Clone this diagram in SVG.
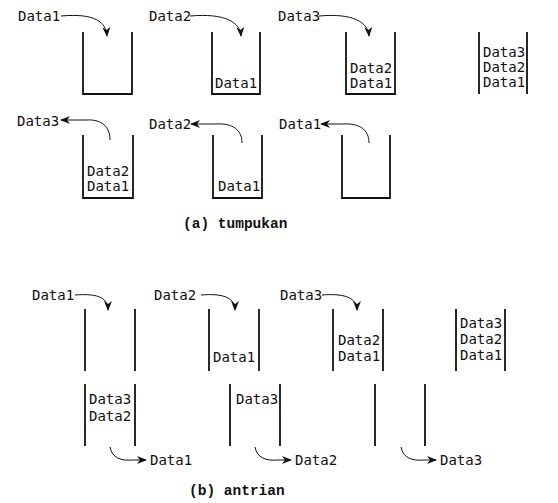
<svg xmlns="http://www.w3.org/2000/svg" width="558" height="503" viewBox="0 0 558 503">
<style>
.t{font-family:"DejaVu Sans Mono","Liberation Mono",monospace;font-size:14px;fill:#111}
.cap{font-family:"Liberation Mono","Courier New",monospace;font-size:14.5px;font-weight:bold;fill:#111}
.w{fill:none;stroke:#111;stroke-width:1.8}
.c{fill:none;stroke:#111;stroke-width:1}
</style>
<defs>
<marker id="ah" viewBox="0 0 10 8" refX="9" refY="4" markerWidth="10" markerHeight="8" markerUnits="userSpaceOnUse" orient="auto">
<path d="M0,0 L10,4 L0,8 L3,4 z" fill="#111"/>
</marker>
</defs>
<rect width="558" height="503" fill="#fff"/>

<g id="stack-a1">
<text class="t" x="18" y="21">Data1</text>
<path class="w" d="M83,32 V94 H132 V32"/>
</g>
<g id="stack-a2">
<text class="t" x="149" y="21">Data2</text>
<path class="w" d="M212,32 V94 H260 V32"/>
<text class="t" x="215" y="88">Data1</text>
</g>
<g id="stack-a3">
<text class="t" x="278" y="21">Data3</text>
<path class="w" d="M346,32 V94 H395 V32"/>
<text class="t" x="350" y="73">Data2</text>
<text class="t" x="350" y="88">Data1</text>
</g>
<g id="stack-a4">
<path class="w" d="M479,32 V94 M527,32 V94"/>
<text class="t" x="483" y="57">Data3</text>
<text class="t" x="483" y="72">Data2</text>
<text class="t" x="483" y="87">Data1</text>
</g>
<g id="stack-a5">
<text class="t" x="17" y="126">Data3</text>
<path class="w" d="M83,135 V198 H133 V135"/>
<text class="t" x="87" y="176">Data2</text>
<text class="t" x="87" y="191">Data1</text>
</g>
<g id="stack-a6">
<text class="t" x="149" y="129">Data2</text>
<path class="w" d="M213,135 V198 H262 V135"/>
<text class="t" x="218" y="191">Data1</text>
</g>
<g id="stack-a7">
<text class="t" x="279" y="129">Data1</text>
<path class="w" d="M342,135 V198 H390 V135"/>
</g>
<text class="cap" x="183" y="228">(a) tumpukan</text>

<g id="queue-b1">
<text class="t" x="32" y="300">Data1</text>
<path class="w" d="M85,309 V371 M135,309 V371"/>
</g>
<g id="queue-b2">
<text class="t" x="154" y="300">Data2</text>
<path class="w" d="M209,309 V371 M259,309 V371"/>
<text class="t" x="213" y="362">Data1</text>
</g>
<g id="queue-b3">
<text class="t" x="280" y="300">Data3</text>
<path class="w" d="M333,309 V371 M383,309 V371"/>
<text class="t" x="338" y="345">Data2</text>
<text class="t" x="338" y="361">Data1</text>
</g>
<g id="queue-b4">
<path class="w" d="M456,309 V371 M505,309 V371"/>
<text class="t" x="460" y="328">Data3</text>
<text class="t" x="460" y="344">Data2</text>
<text class="t" x="460" y="360">Data1</text>
</g>
<g id="queue-b5">
<path class="w" d="M85,384 V446 M135,384 V446"/>
<text class="t" x="89" y="404">Data3</text>
<text class="t" x="89" y="421">Data2</text>
<text class="t" x="150" y="465">Data1</text>
</g>
<g id="queue-b6">
<path class="w" d="M230,384 V446 M280,384 V446"/>
<text class="t" x="236" y="404">Data3</text>
<text class="t" x="295" y="465">Data2</text>
</g>
<g id="queue-b7">
<path class="w" d="M375,384 V446 M425,384 V446"/>
<text class="t" x="440" y="465">Data3</text>
</g>
<text class="cap" x="189" y="495">(b) antrian</text>

<g id="connectors">
<path class="c" marker-end="url(#ah)" d="M61,16 C95,13 106,22 107,36"/>
<path class="c" marker-end="url(#ah)" d="M190,16 C225,13 240,22 241,36"/>
<path class="c" marker-end="url(#ah)" d="M319,16 C353,13 368,22 369,36"/>
<path class="c" marker-end="url(#ah)" d="M110,140 C110,126 101,119 86,120 L61,120"/>
<path class="c" marker-end="url(#ah)" d="M242,143 C242,130 233,123 216,124 L191,124"/>
<path class="c" marker-end="url(#ah)" d="M369,143 C369,130 360,123 343,124 L321,124"/>
<path class="c" marker-end="url(#ah)" d="M75,295 C100,293 108,299 108,310"/>
<path class="c" marker-end="url(#ah)" d="M201,295 C226,293 235,299 235,310"/>
<path class="c" marker-end="url(#ah)" d="M322,295 C347,293 357,299 357,310"/>
<path class="c" marker-end="url(#ah)" d="M110,447 C112,458 121,461 133,460 L146,460"/>
<path class="c" marker-end="url(#ah)" d="M255,447 C257,458 266,461 278,460 L291,460"/>
<path class="c" marker-end="url(#ah)" d="M401,447 C403,458 412,461 424,460 L436,460"/>
</g>
</svg>
